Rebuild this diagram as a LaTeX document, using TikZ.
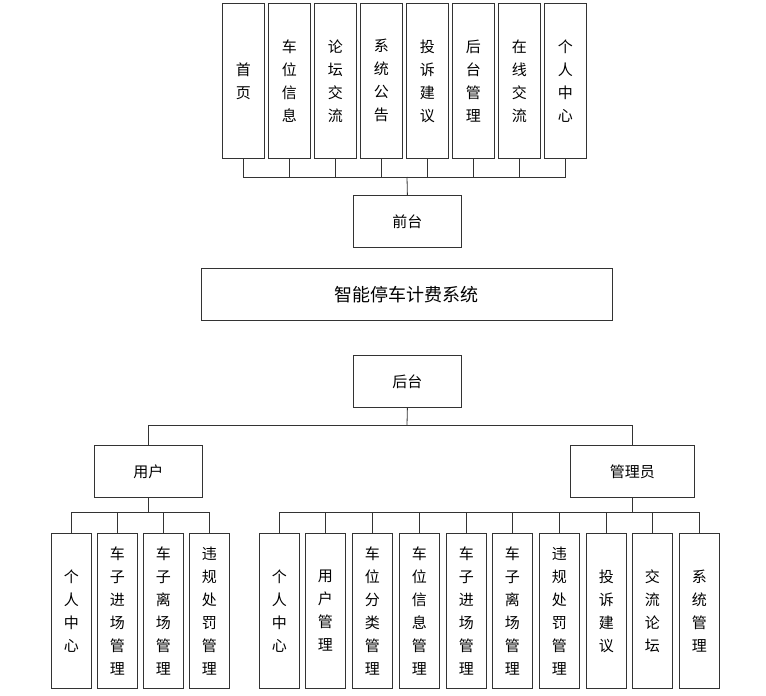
\documentclass[tikz,border=0pt]{standalone}
\usepackage{fontspec}
\setmainfont{Noto Sans CJK SC}
\begin{document}
\begin{tikzpicture}[x=1pt,y=-1pt,
  bx/.style={draw=black!80,thick,fill=white,inner sep=0pt,align=center,font=\fontsize{15}{23}\selectfont},
  ln/.style={draw=black!80,thick}]
\useasboundingbox (0,0) rectangle (766,696);
% top
\foreach \i/\x/\t in {1/222/首\\页,2/268/车\\位\\信\\息,3/314/论\\坛\\交\\流,4/360/系\\统\\公\\告,5/406/投\\诉\\建\\议,6/452/后\\台\\管\\理,7/498/在\\线\\交\\流,8/544/个\\人\\中\\心}{
  \node[bx,minimum width=42pt,minimum height=155pt,anchor=north west] (t\i) at (\x,3) {\t};
}
\node[bx,minimum width=108pt,minimum height=52pt,anchor=north west] (qt) at (353,195) {前台};
\node[bx,minimum width=411pt,minimum height=52pt,anchor=north west,font=\fontsize{18}{20}\selectfont] (sys) at (201,268) {智能停车计费系统};
\node[bx,minimum width=108pt,minimum height=52pt,anchor=north west] (ht) at (353,355) {后台};
\node[bx,minimum width=108pt,minimum height=52pt,anchor=north west] (yh) at (94,445) {用户};
\node[bx,minimum width=124pt,minimum height=52pt,anchor=north west] (gly) at (570,445) {管理员};
\coordinate (tb) at (407,177);
\foreach \i in {1,...,8}{\draw[ln] (t\i.south) |- (tb);}
\draw[ln] (t1.south) |- (t8.south |- tb);
\draw[ln] (tb) -- (qt.north);
\coordinate (hb) at (407,425);
\draw[ln] (ht.south) -- (hb);
\draw[ln] (yh.north) |- (gly.north |- hb) -- (gly.north);
% user children
\foreach \i/\x/\t in {1/51/个\\人\\中\\心,2/97/车\\子\\进\\场\\管\\理,3/143/车\\子\\离\\场\\管\\理,4/189/违\\规\\处\\罚\\管\\理}{
  \node[bx,minimum width=40pt,minimum height=155pt,anchor=north west] (u\i) at (\x,533) {\t};
}
\foreach \i in {1,...,4}{\draw[ln] (u\i.north) -- ++(0,-21);}
\draw[ln] ([yshift=21pt]u1.north) -- ([yshift=21pt]u4.north);
\draw[ln] (yh.south) -- (yh.south |- 0,512);
\foreach \i/\x/\t in {1/259/个\\人\\中\\心,2/305/用\\户\\管\\理,3/352/车\\位\\分\\类\\管\\理,4/399/车\\位\\信\\息\\管\\理,5/446/车\\子\\进\\场\\管\\理,6/492/车\\子\\离\\场\\管\\理,7/539/违\\规\\处\\罚\\管\\理,8/586/投\\诉\\建\\议,9/632/交\\流\\论\\坛,10/679/系\\统\\管\\理}{
  \node[bx,minimum width=40pt,minimum height=155pt,anchor=north west] (a\i) at (\x,533) {\t};
}
\foreach \i in {1,...,10}{\draw[ln] (a\i.north) -- ++(0,-21);}
\draw[ln] ([yshift=21pt]a1.north) -- ([yshift=21pt]a10.north);
\draw[ln] (gly.south) -- (gly.south |- 0,512);
\end{tikzpicture}
\end{document}
